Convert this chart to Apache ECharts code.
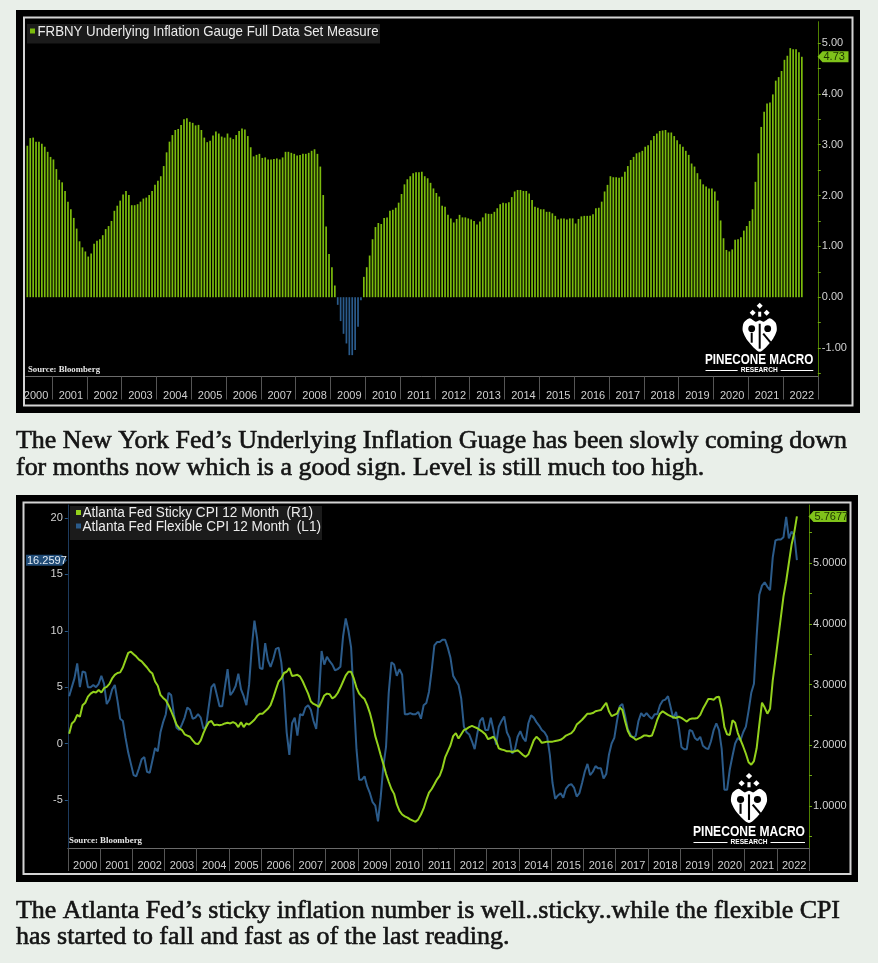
<!DOCTYPE html>
<html>
<head>
<meta charset="utf-8">
<script src="https://cdn.jsdelivr.net/npm/echarts@6/dist/echarts.min.js"></script>
<style>
html,body{margin:0;padding:0;background:#e9efe9;}
#main{width:878px;height:963px;}
</style>
</head>
<body>
<div id="main"></div>
<script>
// ---------------- DATA ----------------
// FRBNY Underlying Inflation Gauge, monthly, Apr 2000 .. Jul 2022
const uigStart = [2000, 4];
const uigEnd = [2022, 12];
const uigValues = [
  2.98, 3.13, 3.14, 3.06, 3.06, 3.02, 2.96, 2.86, 2.76, 2.71,
  2.52, 2.31, 2.26, 2.09, 1.88, 1.73, 1.56, 1.35, 1.10, 0.98,
  0.90, 0.80, 0.86, 1.05, 1.11, 1.14, 1.22, 1.34, 1.40, 1.50,
  1.70, 1.80, 1.90, 2.02, 2.09, 2.01, 1.81, 1.81, 1.83, 1.88,
  1.94, 1.96, 2.01, 2.09, 2.21, 2.29, 2.38, 2.58, 2.85, 3.06,
  3.19, 3.29, 3.31, 3.39, 3.50, 3.52, 3.45, 3.43, 3.38, 3.39,
  3.29, 3.14, 3.05, 3.08, 3.18, 3.26, 3.22, 3.16, 3.14, 3.22,
  3.14, 3.11, 3.19, 3.27, 3.32, 3.30, 3.17, 2.95, 2.77, 2.80,
  2.82, 2.74, 2.75, 2.71, 2.71, 2.72, 2.73, 2.71, 2.75, 2.86,
  2.86, 2.84, 2.82, 2.79, 2.80, 2.82, 2.82, 2.84, 2.88, 2.91,
  2.82, 2.57, 2.01, 1.39, 0.85, 0.59, 0.23, -0.15, -0.47, -0.72,
  -0.91, -1.14, -1.14, -1.04, -0.58, -0.06, 0.40, 0.59, 0.82, 1.14,
  1.38, 1.46, 1.44, 1.56, 1.57, 1.70, 1.72, 1.76, 1.86, 2.03,
  2.22, 2.32, 2.38, 2.44, 2.46, 2.46, 2.47, 2.38, 2.34, 2.25,
  2.14, 2.05, 1.98, 1.80, 1.78, 1.62, 1.55, 1.47, 1.54, 1.62,
  1.57, 1.57, 1.55, 1.53, 1.50, 1.43, 1.49, 1.57, 1.65, 1.64,
  1.64, 1.68, 1.75, 1.83, 1.86, 1.85, 1.87, 1.97, 2.08, 2.11,
  2.11, 2.09, 2.09, 2.04, 1.91, 1.78, 1.76, 1.73, 1.73, 1.68,
  1.68, 1.65, 1.60, 1.53, 1.55, 1.55, 1.53, 1.55, 1.55, 1.45,
  1.54, 1.59, 1.60, 1.60, 1.60, 1.63, 1.75, 1.76, 1.88, 2.08,
  2.21, 2.38, 2.36, 2.36, 2.35, 2.37, 2.47, 2.58, 2.70, 2.76,
  2.83, 2.85, 2.88, 2.96, 2.99, 3.09, 3.17, 3.22, 3.27, 3.28,
  3.29, 3.24, 3.24, 3.17, 3.09, 3.01, 2.96, 2.88, 2.80, 2.63,
  2.57, 2.44, 2.32, 2.22, 2.18, 2.14, 2.14, 2.08, 1.90, 1.51,
  1.16, 0.93, 0.90, 0.94, 1.13, 1.14, 1.18, 1.31, 1.40, 1.50,
  1.73, 2.27, 2.83, 3.35, 3.65, 3.81, 3.83, 3.99, 4.26, 4.33,
  4.45, 4.67, 4.75, 4.90, 4.88, 4.88, 4.82, 4.73
];
const uigLabelValues = [-1, 0, 1, 2, 3, 4, 5];
const uigTickValues = [-1.5, -1, -0.5, 0, 0.5, 1, 1.5, 2, 2.5, 3, 3.5, 4, 4.5, 5];

// Atlanta Fed CPI, monthly, Jan 2000 .. Aug 2022
const cpiStart = [2000, 1];
const cpiEnd = [2022, 12];
const flexibleCpi = [
  4.2, 5.0, 5.8, 7.1, 5.0, 6.4, 6.3, 5.0, 5.0, 5.2,
  5.0, 5.3, 6.0, 5.3, 3.5, 3.9, 4.8, 5.2, 3.8, 2.2,
  2.0, 0.5, -0.8, -1.8, -2.8, -2.9, -2.2, -1.4, -1.2, -2.5,
  -2.6, -1.5, -0.4, -0.7, 1.0, 1.9, 2.6, 4.5, 4.3, 2.6,
  1.4, 1.2, 1.7, 2.3, 3.2, 3.0, 2.2, 2.3, 2.6, 2.3,
  1.3, 1.5, 3.3, 5.0, 5.3, 4.3, 3.3, 3.3, 5.0, 6.6,
  4.3, 4.6, 5.1, 6.2, 4.8, 4.2, 3.4, 5.2, 8.5, 10.9,
  9.3, 6.7, 6.6, 8.9, 7.4, 6.8, 7.5, 8.4, 8.5, 7.2,
  4.8, 1.0, -1.0, 1.8, 2.3, 0.7, 2.6, 2.5, 3.2, 3.4,
  3.0, 2.0, 1.3, 4.0, 8.2, 7.0, 7.7, 7.3, 7.0, 6.5,
  6.6, 6.8, 9.5, 11.1, 10.0, 8.5, 4.0, -0.5, -3.2, -3.2,
  -2.9, -3.8, -4.4, -5.2, -5.5, -6.9, -4.8, -2.0, -0.3, 4.5,
  7.2, 7.0, 6.0, 6.6, 6.1, 2.6, 2.6, 2.7, 2.6, 2.6,
  2.8, 2.2, 3.4, 3.6, 4.6, 6.5, 8.7, 9.0, 9.0, 9.2,
  9.2, 8.5, 7.6, 6.0, 5.6, 5.2, 4.0, 1.5, 1.0, 0.8,
  0.2, -0.5, 0.9, 2.0, 2.3, 1.2, 1.2, 2.3, 1.2, -0.1,
  1.5, 2.0, 2.4, 1.0, 0.5, -0.9, -0.5, 0.6, 1.1, 0.5,
  0.2, 1.8, 2.5, 2.3, 1.9, 1.6, 1.2, 1.0, 0.6, -1.0,
  -3.5, -4.9, -4.6, -4.4, -4.8, -4.0, -3.7, -3.6, -3.9, -4.7,
  -4.4, -3.5, -2.5, -1.8, -2.8, -2.5, -2.0, -2.2, -2.2, -3.1,
  -2.7, -1.0, 0.0, 0.5, 2.0, 3.3, 3.5, 2.5, 1.3, 0.8,
  0.5, 0.7, 2.0, 2.7, 2.4, 2.7, 2.4, 2.2, 2.6, 2.6,
  3.4, 3.8, 3.9, 4.2, 3.2, 2.2, 2.8, 1.5, -0.3, -0.5,
  -0.5, 1.2, 1.1, 0.5, 0.3, 0.6, -0.2, -0.4, -0.5, 0.2,
  1.2, 1.8, 1.2, -0.5, -4.1, -4.1, -2.3, -1.1, 0.0, 0.5,
  0.3, 1.0, 1.5, 2.9, 4.5, 5.3, 9.5, 13.2, 14.0, 14.3,
  13.9, 13.6, 16.5, 18.0, 18.1, 18.1, 18.3, 20.1, 18.2, 18.8,
  18.5, 16.2597
];
const stickyCpi = [
  2.19, 2.36, 2.40, 2.50, 2.47, 2.66, 2.70, 2.80, 2.85, 2.88,
  2.87, 2.91, 2.87, 2.94, 2.96, 3.01, 3.10, 3.16, 3.19, 3.20,
  3.28, 3.40, 3.52, 3.54, 3.50, 3.46, 3.41, 3.38, 3.33, 3.28,
  3.22, 3.18, 3.05, 2.98, 2.83, 2.78, 2.74, 2.66, 2.56, 2.45,
  2.34, 2.28, 2.25, 2.18, 2.16, 2.14, 2.08, 2.03, 2.02, 2.08,
  2.20, 2.30, 2.38, 2.40, 2.33, 2.34, 2.33, 2.34, 2.36, 2.37,
  2.36, 2.38, 2.36, 2.30, 2.38, 2.30, 2.36, 2.34, 2.38, 2.42,
  2.48, 2.52, 2.52, 2.56, 2.60, 2.66, 2.78, 2.92, 3.05, 3.10,
  3.19, 3.21, 3.27, 3.14, 3.15, 3.16, 3.13, 3.05, 2.95, 2.85,
  2.72, 2.68, 2.66, 2.63, 2.72, 2.82, 2.85, 2.84, 2.77, 2.80,
  2.86, 2.95, 3.05, 3.15, 3.21, 3.21, 3.10, 2.95, 2.85, 2.80,
  2.76, 2.66, 2.53, 2.36, 2.15, 2.00, 1.84, 1.69, 1.53, 1.40,
  1.28, 1.20, 1.03, 0.92, 0.86, 0.83, 0.81, 0.78, 0.76, 0.74,
  0.78, 0.86, 0.96, 1.10, 1.22, 1.28, 1.36, 1.44, 1.50, 1.62,
  1.80, 1.90, 2.00, 2.15, 2.20, 2.11, 2.18, 2.25, 2.27, 2.30,
  2.32, 2.30, 2.28, 2.25, 2.22, 2.18, 2.10, 2.12, 2.14, 2.07,
  1.95, 1.93, 1.92, 1.90, 1.90, 1.89, 1.90, 1.92, 1.88, 1.84,
  1.81, 1.85, 1.96, 2.08, 2.14, 2.10, 2.04, 2.05, 2.06, 2.06,
  2.06, 2.07, 2.08, 2.09, 2.12, 2.16, 2.18, 2.20, 2.25, 2.34,
  2.38, 2.42, 2.47, 2.52, 2.52, 2.53, 2.56, 2.57, 2.58, 2.64,
  2.70, 2.56, 2.48, 2.50, 2.52, 2.62, 2.58, 2.40, 2.24, 2.15,
  2.13, 2.09, 2.11, 2.13, 2.16, 2.16, 2.15, 2.16, 2.28, 2.42,
  2.52, 2.56, 2.53, 2.50, 2.48, 2.46, 2.45, 2.47, 2.45, 2.42,
  2.39, 2.43, 2.44, 2.44, 2.45, 2.50, 2.60, 2.68, 2.76, 2.76,
  2.75, 2.79, 2.80, 2.60, 2.30, 2.18, 2.17, 2.41, 2.37, 2.20,
  2.09, 1.98, 1.86, 1.72, 1.68, 1.74, 1.95, 2.34, 2.70, 2.62,
  2.52, 2.60, 3.07, 3.40, 3.75, 4.10, 4.45, 4.70, 5.00, 5.30,
  5.50, 5.7677
];
const flexLabelValues = [-5, 0, 5, 10, 15, 20];
const stickyLabelValues = [1, 2, 3, 4, 5];
const stickyTickValues = [0.5, 1, 1.5, 2, 2.5, 3, 3.5, 4, 4.5, 5, 5.5];

const title1 = 'FRBNY Underlying Inflation Gauge Full Data Set Measure';
const legend2 = ['Atlanta Fed Sticky CPI 12 Month  (R1)', 'Atlanta Fed Flexible CPI 12 Month  (L1)'];
const caption1 = ['The New York Fed\u2019s Underlying Inflation Guage has been slowly coming down',
                  'for months now which is a good sign. Level is still much too high.'];
const caption2 = ['The Atlanta Fed\u2019s sticky inflation number is well..sticky..while the flexible CPI',
                  'has started to fall and fast as of the last reading.'];

// ---------------- HELPERS ----------------
function monthRange(a, b) {
  const out = []; let y = a[0], m = a[1];
  while (y < b[0] || (y === b[0] && m <= b[1])) {
    out.push(y + '-' + String(m).padStart(2, '0'));
    m++; if (m > 12) { m = 1; y++; }
  }
  return out;
}
const uigMonths = monthRange(uigStart, uigEnd);
const cpiMonths = monthRange(cpiStart, cpiEnd);

const GREEN = '#7bbb0c', BLUE_BAR = '#2a5b8c';
const GREEN_LINE = '#93d11c', BLUE_LINE = '#2b5b8a';
const AX_FONT = '"Liberation Sans", Arial, sans-serif';

const mctx = document.createElement('canvas').getContext('2d');
function fit(text, font, target) { mctx.font = font; return target / mctx.measureText(text).width; }

const chart = echarts.init(document.getElementById('main'), null, {width: 878, height: 963});

function yearTick(idx, val) { return val.slice(5) === '01'; }
function yearLabel(idx, val) { return val.slice(5) === '07'; }

const xBase = {
  type: 'category', boundaryGap: true,
  axisLine: {show: true, onZero: false, lineStyle: {color: '#6b6b6b', width: 1}},
  axisTick: {show: true, interval: yearTick, length: 23, lineStyle: {color: '#555', width: 1}},
  axisLabel: {interval: yearLabel, formatter: v => v.slice(0, 4), color: '#cfcfcf', fontSize: 11, fontFamily: AX_FONT},
  splitLine: {show: false}
};

chart.setOption({
  backgroundColor: '#e9efe9',
  animation: false,
  grid: [
    {left: 25.9, top: 21.7, width: 791.9, height: 354.8},
    {left: 67.8, top: 505, width: 741.2, height: 343}
  ],
  xAxis: [
    Object.assign({}, xBase, {gridIndex: 0, data: uigMonths, axisLabel: Object.assign({}, xBase.axisLabel, {margin: 14})}),
    Object.assign({}, xBase, {gridIndex: 1, data: cpiMonths, axisLabel: Object.assign({}, xBase.axisLabel, {margin: 12})})
  ],
  yAxis: [
    {gridIndex: 0, type: 'value', position: 'right', min: -1.56, max: 5.42,
     axisLine: {show: true, lineStyle: {color: '#4f8000', width: 1}},
     axisTick: {show: true, customValues: uigTickValues, length: 3, lineStyle: {color: '#6fa812'}},
     axisLabel: {customValues: uigLabelValues, formatter: v => Number(v).toFixed(2), color: '#d2d2d2', fontSize: 11, fontFamily: AX_FONT, margin: 4},
     splitLine: {show: false}},
    {gridIndex: 1, type: 'value', position: 'left', min: -9.26, max: 21.15,
     axisLine: {show: true, lineStyle: {color: '#1d3b5e', width: 1}},
     axisTick: {show: true, customValues: flexLabelValues, length: 3, lineStyle: {color: '#2b5b8a'}},
     axisLabel: {customValues: flexLabelValues, formatter: v => String(v), color: '#d2d2d2', fontSize: 11, fontFamily: AX_FONT, margin: 5},
     splitLine: {show: false}},
    {gridIndex: 1, type: 'value', position: 'right', min: 0.309, max: 5.955,
     axisLine: {show: true, lineStyle: {color: '#4f8000', width: 1}},
     axisTick: {show: true, customValues: stickyTickValues, length: 3, lineStyle: {color: '#6fa812'}},
     axisLabel: {customValues: stickyLabelValues, formatter: v => Number(v).toFixed(4), color: '#d2d2d2', fontSize: 11, fontFamily: AX_FONT, margin: 4},
     splitLine: {show: false}}
  ],
  series: [
    {type: 'bar', name: title1, xAxisIndex: 0, yAxisIndex: 0, data: uigValues, barWidth: 1.7,
     itemStyle: {color: p => (p.value < 0 ? BLUE_BAR : GREEN)}, z: 3},
    {type: 'line', name: legend2[1], xAxisIndex: 1, yAxisIndex: 1, data: flexibleCpi,
     symbol: 'none', lineStyle: {color: BLUE_LINE, width: 2}, itemStyle: {color: BLUE_LINE}, z: 3},
    {type: 'line', name: legend2[0], xAxisIndex: 1, yAxisIndex: 2, data: stickyCpi,
     symbol: 'none', lineStyle: {color: GREEN_LINE, width: 2}, itemStyle: {color: GREEN_LINE}, z: 4}
  ]
});

// ---------------- GRAPHICS ----------------
const G = [];
function rect(x, y, w, h, fill, z) { G.push({type: 'rect', silent: true, z: z, shape: {x: x, y: y, width: w, height: h}, style: {fill: fill}}); }
function frame(x, y, w, h) { G.push({type: 'rect', silent: true, z: -9, shape: {x: x, y: y, width: w, height: h}, style: {fill: 'none', stroke: '#d4d4d4', lineWidth: 2}}); }
function text(str, x, y, font, fill, sx, z, strokeW) {
  const st = {text: str, font: font, fill: fill, align: 'left', verticalAlign: 'middle'};
  if (strokeW) { st.stroke = fill; st.lineWidth = strokeW; }
  G.push({type: 'text', silent: true, z: z || 50, x: x, y: y, scaleX: sx || 1, style: st});
}

// Chart 1 frame
rect(16, 10, 844, 403, '#000', -10);
frame(24, 17.5, 828.5, 388);
// Chart 2 frame
rect(16, 495, 842, 387, '#000', -10);
frame(23.5, 502.5, 827, 371.5);

// Legend chart 1
rect(27, 24, 353, 19.5, '#1b1b1b', 40);
rect(30, 28.5, 5, 5, GREEN, 45);
const lf1 = '14.5px ' + AX_FONT;
text(title1, 37.5, 31.5, lf1, '#ececec', fit(title1, lf1, 341));

// Legend chart 2
rect(70, 506, 252, 34, '#1b1b1b', 40);
rect(76, 510, 5, 5, GREEN_LINE, 45);
rect(76, 523.5, 5, 5, BLUE_LINE, 45);
const lf2 = '14px ' + AX_FONT;
text(legend2[0], 82.5, 513, lf2, '#ececec', fit(legend2[0], lf2, 230.5));
text(legend2[1], 82.5, 527, lf2, '#ececec', fit(legend2[1], lf2, 238.5));

// Source
const srcFont = 'bold 9px "Liberation Serif", serif';
text('Source: Bloomberg', 28, 370, srcFont, '#e6e6e6', fit('Source: Bloomberg', srcFont, 72));
text('Source: Bloomberg', 69, 840.5, srcFont, '#e6e6e6', fit('Source: Bloomberg', srcFont, 73));

// Watermark logo
function logo(x, y, w, h, textTop, textLeft, textRight) {
  const ch = [];
  const white = '#ffffff', black = '#000000';
  ch.push({type: 'polygon', shape: {points: [[18, 0], [21, 3], [18, 6], [15, 3]]}, style: {fill: white}});
  ch.push({type: 'polygon', shape: {points: [[11, 7], [14, 10], [11, 13], [8, 10]]}, style: {fill: white}});
  ch.push({type: 'polygon', shape: {points: [[25, 7], [28, 10], [25, 13], [22, 10]]}, style: {fill: white}});
  ch.push({type: 'rect', shape: {x: 16.5, y: 9, width: 3, height: 5}, style: {fill: white}});
  ch.push({type: 'polygon', shape: {smooth: 0.25, points: [[18, 49], [6, 38], [1, 28], [2, 20], [8, 15.5], [14, 19], [18, 17.5], [22, 19], [28, 15.5], [34, 20], [35, 28], [30, 38]]}, style: {fill: white}});
  ch.push({type: 'circle', shape: {cx: 10, cy: 26, r: 3.4}, style: {fill: black}});
  ch.push({type: 'circle', shape: {cx: 26, cy: 26, r: 3.4}, style: {fill: black}});
  ch.push({type: 'line', shape: {x1: 18, y1: 21, x2: 18, y2: 46}, style: {stroke: black, lineWidth: 2}});
  ch.push({type: 'line', shape: {x1: 21.5, y1: 31, x2: 29, y2: 40}, style: {stroke: black, lineWidth: 2}});
  ch.push({type: 'line', shape: {x1: 10, y1: 30, x2: 10, y2: 40}, style: {stroke: black, lineWidth: 2}});
  G.push({type: 'group', x: x, y: y, scaleX: w / 36, scaleY: h / 49, z: 60, silent: true, children: ch.map(c => Object.assign({z: 60, silent: true}, c))});
  const bf = 'bold 14px "Liberation Sans", Arial, sans-serif';
  const tw = textRight - textLeft;
  text('PINECONE MACRO', textLeft, textTop, bf, '#ffffff', fit('PINECONE MACRO', bf, tw), 60);
  const rf = 'bold 7px "Liberation Sans", Arial, sans-serif';
  const mid = (textLeft + textRight) / 2;
  text('RESEARCH', mid - 18.5, textTop + 10.5, rf, '#ffffff', fit('RESEARCH', rf, 37), 60);
  G.push({type: 'line', silent: true, z: 60, shape: {x1: textLeft + 0.5, y1: textTop + 10.5, x2: mid - 21.5, y2: textTop + 10.5}, style: {stroke: '#ffffff', lineWidth: 1}});
  G.push({type: 'line', silent: true, z: 60, shape: {x1: mid + 21.5, y1: textTop + 10.5, x2: textRight, y2: textTop + 10.5}, style: {stroke: '#ffffff', lineWidth: 1}});
}
logo(741.7, 302.7, 36, 49, 360, 705, 813.3);
logo(730, 773, 38, 50, 832, 693, 805);

// Value tags computed from axis scales
function tagLeftPointing(x, yc, w, h, bg, str, fg) {
  G.push({type: 'polygon', silent: true, z: 55, shape: {points: [[x, yc], [x + 5, yc - h / 2], [x + w, yc - h / 2], [x + w, yc + h / 2], [x + 5, yc + h / 2]]}, style: {fill: bg}});
  text(str, x + 6, yc + 0.5, '11px ' + AX_FONT, fg, 1, 56);
}
function tagRightPointing(xr, yc, w, h, bg, str, fg) {
  G.push({type: 'polygon', silent: true, z: 55, shape: {points: [[xr, yc], [xr - 5, yc - h / 2], [xr - w, yc - h / 2], [xr - w, yc + h / 2], [xr - 5, yc + h / 2]]}, style: {fill: bg}});
  text(str, xr - w + 1, yc + 0.5, '11px ' + AX_FONT, fg, 1, 56);
}
const uigLast = uigValues[uigValues.length - 1];
const stickyLast = stickyCpi[stickyCpi.length - 1];
const flexLast = flexibleCpi[flexibleCpi.length - 1];
const yU = chart.convertToPixel({yAxisIndex: 0}, uigLast);
const yS = chart.convertToPixel({yAxisIndex: 2}, stickyLast);
const yF = chart.convertToPixel({yAxisIndex: 1}, flexLast);
tagLeftPointing(817.5, yU, 31, 11, '#7fc21a', uigLast.toFixed(2), '#1d3300');
tagLeftPointing(808.5, yS, 38, 11, '#7fc21a', stickyLast.toFixed(4), '#1d3300');
tagRightPointing(67, yF, 41, 11, '#1f4a75', flexLast.toFixed(4), '#e3ebf3');

// Captions
const capFont = '25px "Liberation Serif", "Times New Roman", serif';
const capScale = fit(caption1[0], capFont, 831);
text(caption1[0], 16, 441, capFont, '#141414', capScale, 50, 0.6);
text(caption1[1], 16, 468, capFont, '#141414', capScale, 50, 0.6);
text(caption2[0], 16, 911, capFont, '#141414', capScale, 50, 0.6);
text(caption2[1], 16, 937.5, capFont, '#141414', capScale, 50, 0.6);

chart.setOption({graphic: {elements: G}});
</script>
</body>
</html>
